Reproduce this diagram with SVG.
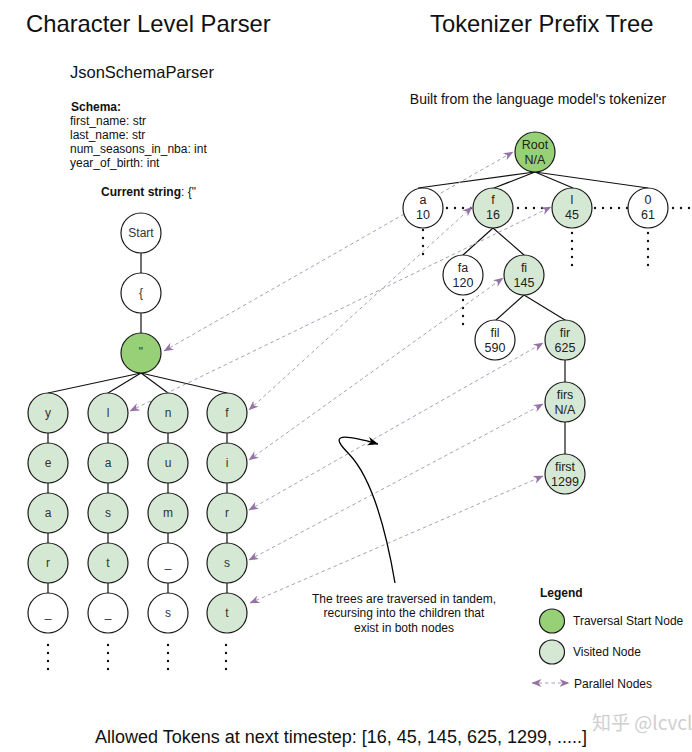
<svg xmlns="http://www.w3.org/2000/svg" width="692" height="752" viewBox="0 0 692 752">
<defs>
<style>
text{font-family:"Liberation Sans",Arial,sans-serif;fill:#111}
.n{stroke:#1a1a1a;stroke-width:1.2}
.w{fill:#fff}
.dg{fill:#97d077}
.lg{fill:#d5e8d4}
.t{font-size:12px;text-anchor:middle;fill:#333}
.tr{font-size:12.5px;text-anchor:middle;fill:#222}
.e{stroke:#111;stroke-width:1.2;fill:none}
.d{stroke:#111;stroke-width:2.4;stroke-linecap:round;stroke-dasharray:0 8;fill:none}
.p{stroke:#aa9fb6;stroke-width:1;stroke-dasharray:3.5 3;fill:none;marker-start:url(#ah);marker-end:url(#ah)}
</style>
<marker id="ah" viewBox="0 0 10 8" refX="9.5" refY="4" markerWidth="10" markerHeight="8" markerUnits="userSpaceOnUse" orient="auto-start-reverse">
<path d="M0,0 L10,4 L0,8 L3,4 Z" fill="#9673a6"/>
</marker>
<marker id="bh" viewBox="0 0 10 8" refX="9.5" refY="4" markerWidth="11" markerHeight="9" markerUnits="userSpaceOnUse" orient="auto">
<path d="M0,0 L10,4 L0,8 L3,4 Z" fill="#000"/>
</marker>
</defs>
<rect width="692" height="752" fill="#fff"/>

<g id="titles">
<text x="26" y="32" font-size="23.8">Character Level Parser</text>
<text x="430" y="32" font-size="23.8">Tokenizer Prefix Tree</text>
<text x="70" y="78" font-size="16.5">JsonSchemaParser</text>
<text x="71" y="111" font-size="12" font-weight="bold">Schema:</text>
<text x="70" y="125" font-size="12">first_name: str</text>
<text x="70" y="139" font-size="12">last_name: str</text>
<text x="70" y="153" font-size="12">num_seasons_in_nba: int</text>
<text x="70" y="167" font-size="12">year_of_birth: int</text>
<text x="101" y="196" font-size="12"><tspan font-weight="bold">Current string</tspan>: {"</text>
<text x="538" y="104" font-size="14" text-anchor="middle">Built from the language model's tokenizer</text>
<text x="95" y="743" font-size="18">Allowed Tokens at next timestep: [16, 45, 145, 625, 1299, .....]</text>
<text x="592" y="730" font-size="19" fill="#cfcfcf" style="fill:#cfcfcf;font-family:'Noto Sans CJK SC','Liberation Sans',sans-serif">知乎 @lcvcl</text>
</g>

<g id="edges">
<line class="e" x1="141" y1="253" x2="141" y2="273"/>
<line class="e" x1="141" y1="313" x2="141" y2="333"/>
<line class="e" x1="141" y1="373" x2="48" y2="393"/>
<line class="e" x1="141" y1="373" x2="108" y2="393"/>
<line class="e" x1="141" y1="373" x2="168" y2="393"/>
<line class="e" x1="141" y1="373" x2="227" y2="393"/>
<path class="e" d="M48,433V443M48,483V493M48,533V543M48,583V593"/>
<path class="e" d="M108,433V443M108,483V493M108,533V543M108,583V593"/>
<path class="e" d="M168,433V443M168,483V493M168,533V543M168,583V593"/>
<path class="e" d="M227,433V443M227,483V493M227,533V543M227,583V593"/>
<line class="e" x1="535" y1="172" x2="418" y2="188"/>
<line class="e" x1="535" y1="172" x2="494" y2="188"/>
<line class="e" x1="535" y1="172" x2="573" y2="188"/>
<line class="e" x1="535" y1="172" x2="648" y2="188"/>
<line class="e" x1="493" y1="228" x2="463" y2="255"/>
<line class="e" x1="493" y1="228" x2="524" y2="255"/>
<line class="e" x1="524" y1="295" x2="496" y2="320"/>
<line class="e" x1="524" y1="295" x2="565" y2="320"/>
<line class="e" x1="565" y1="360" x2="565" y2="382"/>
<line class="e" x1="565" y1="422" x2="565" y2="454"/>
<path class="d" d="M48,645V670M108,645V670M168,645V670M226,645V670"/>
<path class="d" d="M447,208H472M518,208H543M595,208H628M673,208H690"/>
<path class="d" d="M423,230V255M572,233V266M648,233V266M463,300V325"/>
<line class="p" x1="164" y1="351" x2="513" y2="152"/>
<line class="p" x1="130" y1="411" x2="551" y2="207"/>
<line class="p" x1="249" y1="410" x2="472" y2="207"/>
<line class="p" x1="249" y1="460" x2="503" y2="278"/>
<line class="p" x1="249" y1="510" x2="543" y2="343"/>
<line class="p" x1="249" y1="560" x2="543" y2="404"/>
<line class="p" x1="250" y1="603" x2="543" y2="476"/>
<path d="M395,583 C386,530 372,478 349,454 C331,436 336,432 378,444" fill="none" stroke="#000" stroke-width="1.3" marker-end="url(#bh)"/>
</g>

<g id="left-start"><circle class="n w" cx="141" cy="233" r="20"/><text class="t" x="141" y="237">Start</text></g>
<g id="left-brace"><circle class="n w" cx="141" cy="293" r="20"/><text class="t" x="141" y="297">{</text></g>
<g id="left-quote"><circle class="n dg" cx="141" cy="353" r="20"/><text class="t" x="141" y="356" font-size="10">"</text></g>

<g id="y1"><circle class="n lg" cx="48" cy="413" r="20"/><text class="t" x="48" y="417">y</text></g>
<g id="y2"><circle class="n lg" cx="48" cy="463" r="20"/><text class="t" x="48" y="467">e</text></g>
<g id="y3"><circle class="n lg" cx="48" cy="513" r="20"/><text class="t" x="48" y="517">a</text></g>
<g id="y4"><circle class="n lg" cx="48" cy="563" r="20"/><text class="t" x="48" y="567">r</text></g>
<g id="y5"><circle class="n w" cx="48" cy="613" r="20"/><text class="t" x="48" y="617">_</text></g>

<g id="l1"><circle class="n lg" cx="108" cy="413" r="20"/><text class="t" x="108" y="417">l</text></g>
<g id="l2"><circle class="n lg" cx="108" cy="463" r="20"/><text class="t" x="108" y="467">a</text></g>
<g id="l3"><circle class="n lg" cx="108" cy="513" r="20"/><text class="t" x="108" y="517">s</text></g>
<g id="l4"><circle class="n lg" cx="108" cy="563" r="20"/><text class="t" x="108" y="567">t</text></g>
<g id="l5"><circle class="n w" cx="108" cy="613" r="20"/><text class="t" x="108" y="617">_</text></g>

<g id="n1"><circle class="n lg" cx="168" cy="413" r="20"/><text class="t" x="168" y="417">n</text></g>
<g id="n2"><circle class="n lg" cx="168" cy="463" r="20"/><text class="t" x="168" y="467">u</text></g>
<g id="n3"><circle class="n lg" cx="168" cy="513" r="20"/><text class="t" x="168" y="517">m</text></g>
<g id="n4"><circle class="n w" cx="168" cy="563" r="20"/><text class="t" x="168" y="567">_</text></g>
<g id="n5"><circle class="n w" cx="168" cy="613" r="20"/><text class="t" x="168" y="617">s</text></g>

<g id="f1"><circle class="n lg" cx="227" cy="413" r="20"/><text class="t" x="227" y="417">f</text></g>
<g id="f2"><circle class="n lg" cx="227" cy="463" r="20"/><text class="t" x="227" y="467">i</text></g>
<g id="f3"><circle class="n lg" cx="227" cy="513" r="20"/><text class="t" x="227" y="517">r</text></g>
<g id="f4"><circle class="n lg" cx="227" cy="563" r="20"/><text class="t" x="227" y="567">s</text></g>
<g id="f5"><circle class="n lg" cx="227" cy="613" r="20"/><text class="t" x="227" y="617">t</text></g>

<g id="root"><circle class="n dg" cx="535" cy="152" r="20"/><text class="tr" x="535" y="149">Root</text><text class="tr" x="535" y="164">N/A</text></g>
<g id="tok-a"><circle class="n w" cx="423" cy="208" r="20"/><text class="tr" x="423" y="204">a</text><text class="tr" x="423" y="219">10</text></g>
<g id="tok-f"><circle class="n lg" cx="493" cy="208" r="20"/><text class="tr" x="493" y="204">f</text><text class="tr" x="493" y="219">16</text></g>
<g id="tok-l"><circle class="n lg" cx="572" cy="208" r="20"/><text class="tr" x="572" y="204">l</text><text class="tr" x="572" y="219">45</text></g>
<g id="tok-0"><circle class="n w" cx="648" cy="208" r="20"/><text class="tr" x="648" y="204">0</text><text class="tr" x="648" y="219">61</text></g>
<g id="tok-fa"><circle class="n w" cx="463" cy="275" r="20"/><text class="tr" x="463" y="272">fa</text><text class="tr" x="463" y="287">120</text></g>
<g id="tok-fi"><circle class="n lg" cx="524" cy="275" r="20"/><text class="tr" x="524" y="272">fi</text><text class="tr" x="524" y="287">145</text></g>
<g id="tok-fil"><circle class="n w" cx="495" cy="340" r="20"/><text class="tr" x="495" y="337">fil</text><text class="tr" x="495" y="352">590</text></g>
<g id="tok-fir"><circle class="n lg" cx="565" cy="340" r="20"/><text class="tr" x="565" y="337">fir</text><text class="tr" x="565" y="352">625</text></g>
<g id="tok-firs"><circle class="n lg" cx="565" cy="402" r="20"/><text class="tr" x="565" y="399">firs</text><text class="tr" x="565" y="414">N/A</text></g>
<g id="tok-first"><circle class="n lg" cx="565" cy="474" r="20"/><text class="tr" x="565" y="471">first</text><text class="tr" x="565" y="486">1299</text></g>

<g id="note"><text x="404" y="603" font-size="12" text-anchor="middle">The trees are traversed in tandem,</text><text x="404" y="617" font-size="12" text-anchor="middle">recursing into the children that</text><text x="404" y="632" font-size="12" text-anchor="middle">exist in both nodes</text></g>

<g id="legend">
<text x="540" y="597" font-size="12" font-weight="bold">Legend</text>
<ellipse class="n dg" cx="552" cy="621" rx="12.5" ry="12"/>
<text x="573" y="625" font-size="12" fill="#222">Traversal Start Node</text>
<ellipse class="n lg" cx="552" cy="652" rx="12.5" ry="12"/>
<text x="573" y="656" font-size="12" fill="#222">Visited Node</text>
<line class="p" x1="532" y1="683" x2="569" y2="683"/>
<text x="574" y="688" font-size="12" fill="#222">Parallel Nodes</text>
</g>
</svg>
